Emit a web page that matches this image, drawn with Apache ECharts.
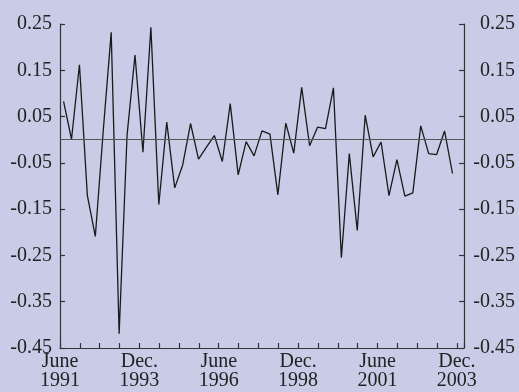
<!DOCTYPE html>
<html>
<head>
<meta charset="utf-8">
<script src="https://cdn.jsdelivr.net/npm/echarts@6/dist/echarts.min.js"></script>
<style>
  html, body { margin: 0; padding: 0; background: #c8cce6; }
  #chart { width: 519px; height: 392px; }
</style>
</head>
<body>
<div id="chart"></div>
<script>
// Quarterly changes, first observation in the quarter after June 1991
var values = [
  0.083, 0.001, 0.162, -0.121, -0.209, 0.020, 0.232, -0.419, 0.010, 0.183,
  -0.027, 0.243, -0.140, 0.038, -0.104, -0.055, 0.035, -0.042, -0.016, 0.009,
  -0.047, 0.078, -0.076, -0.004, -0.035, 0.019, 0.012, -0.119, 0.036, -0.029,
  0.113, -0.013, 0.027, 0.024, 0.112, -0.255, -0.030, -0.196, 0.053, -0.037,
  -0.005, -0.121, -0.043, -0.122, -0.115, 0.030, -0.030, -0.032, 0.019, -0.073
];
// Axis labels, one every ten quarters starting June 1991
var xLabels = ['June\n1991', 'Dec.\n1993', 'June\n1996', 'Dec.\n1998', 'June\n2001', 'Dec.\n2003'];
var yMin = -0.45, yMax = 0.25, yStep = 0.1;

// x is measured in quarters since June 1991
var firstObs = 0.45;
var points = values.map(function (v, i) { return [firstObs + i, v]; });

var font = '"Liberation Serif", "DejaVu Serif", serif';
var axisColor = '#333';

function yAxisDef(pos, margin, align) {
  return {
    type: 'value', position: pos, min: yMin, max: yMax, interval: yStep,
    axisLine: { show: true, onZero: false, lineStyle: { color: axisColor, width: 1.2 } },
    axisTick: { show: true, inside: true, length: 5, lineStyle: { color: axisColor, width: 1.2 } },
    splitLine: { show: false },
    axisLabel: {
      margin: margin, align: align, color: '#222', fontFamily: font, fontSize: 20,
      formatter: function (v) { return v.toFixed(2); }
    }
  };
}

var chart = echarts.init(document.getElementById('chart'), null, { renderer: 'canvas' });
chart.setOption({
  backgroundColor: '#c8cce6',
  animation: false,
  grid: { left: 60, right: 55, top: 24, bottom: 44 },
  xAxis: {
    type: 'value', min: 0, max: 50.9, interval: 2.5,
    axisLine: { show: true, onZero: false, lineStyle: { color: axisColor, width: 1.2 } },
    axisTick: { show: true, inside: true, length: 5, lineStyle: { color: axisColor, width: 1.2 } },
    splitLine: { show: false },
    axisLabel: {
      margin: 4, color: '#222', fontFamily: font, fontSize: 20, lineHeight: 19,
      showMinLabel: true, showMaxLabel: true,
      formatter: function (v) {
        var k = Math.round(v);
        if (Math.abs(v - k) > 1e-6 || k % 10 !== 0) return '';
        return xLabels[k / 10] || '';
      }
    }
  },
  yAxis: [
    yAxisDef('left', 8, 'right'),
    yAxisDef('right', 51, 'right')
  ],
  series: [{
    type: 'line',
    data: points,
    showSymbol: false,
    lineStyle: { color: '#1a1a1a', width: 1.3 },
    markLine: {
      silent: true, symbol: 'none', label: { show: false },
      lineStyle: { color: '#555', type: 'solid', width: 1.2 },
      data: [{ yAxis: 0 }]
    }
  }]
});
</script>
</body>
</html>
